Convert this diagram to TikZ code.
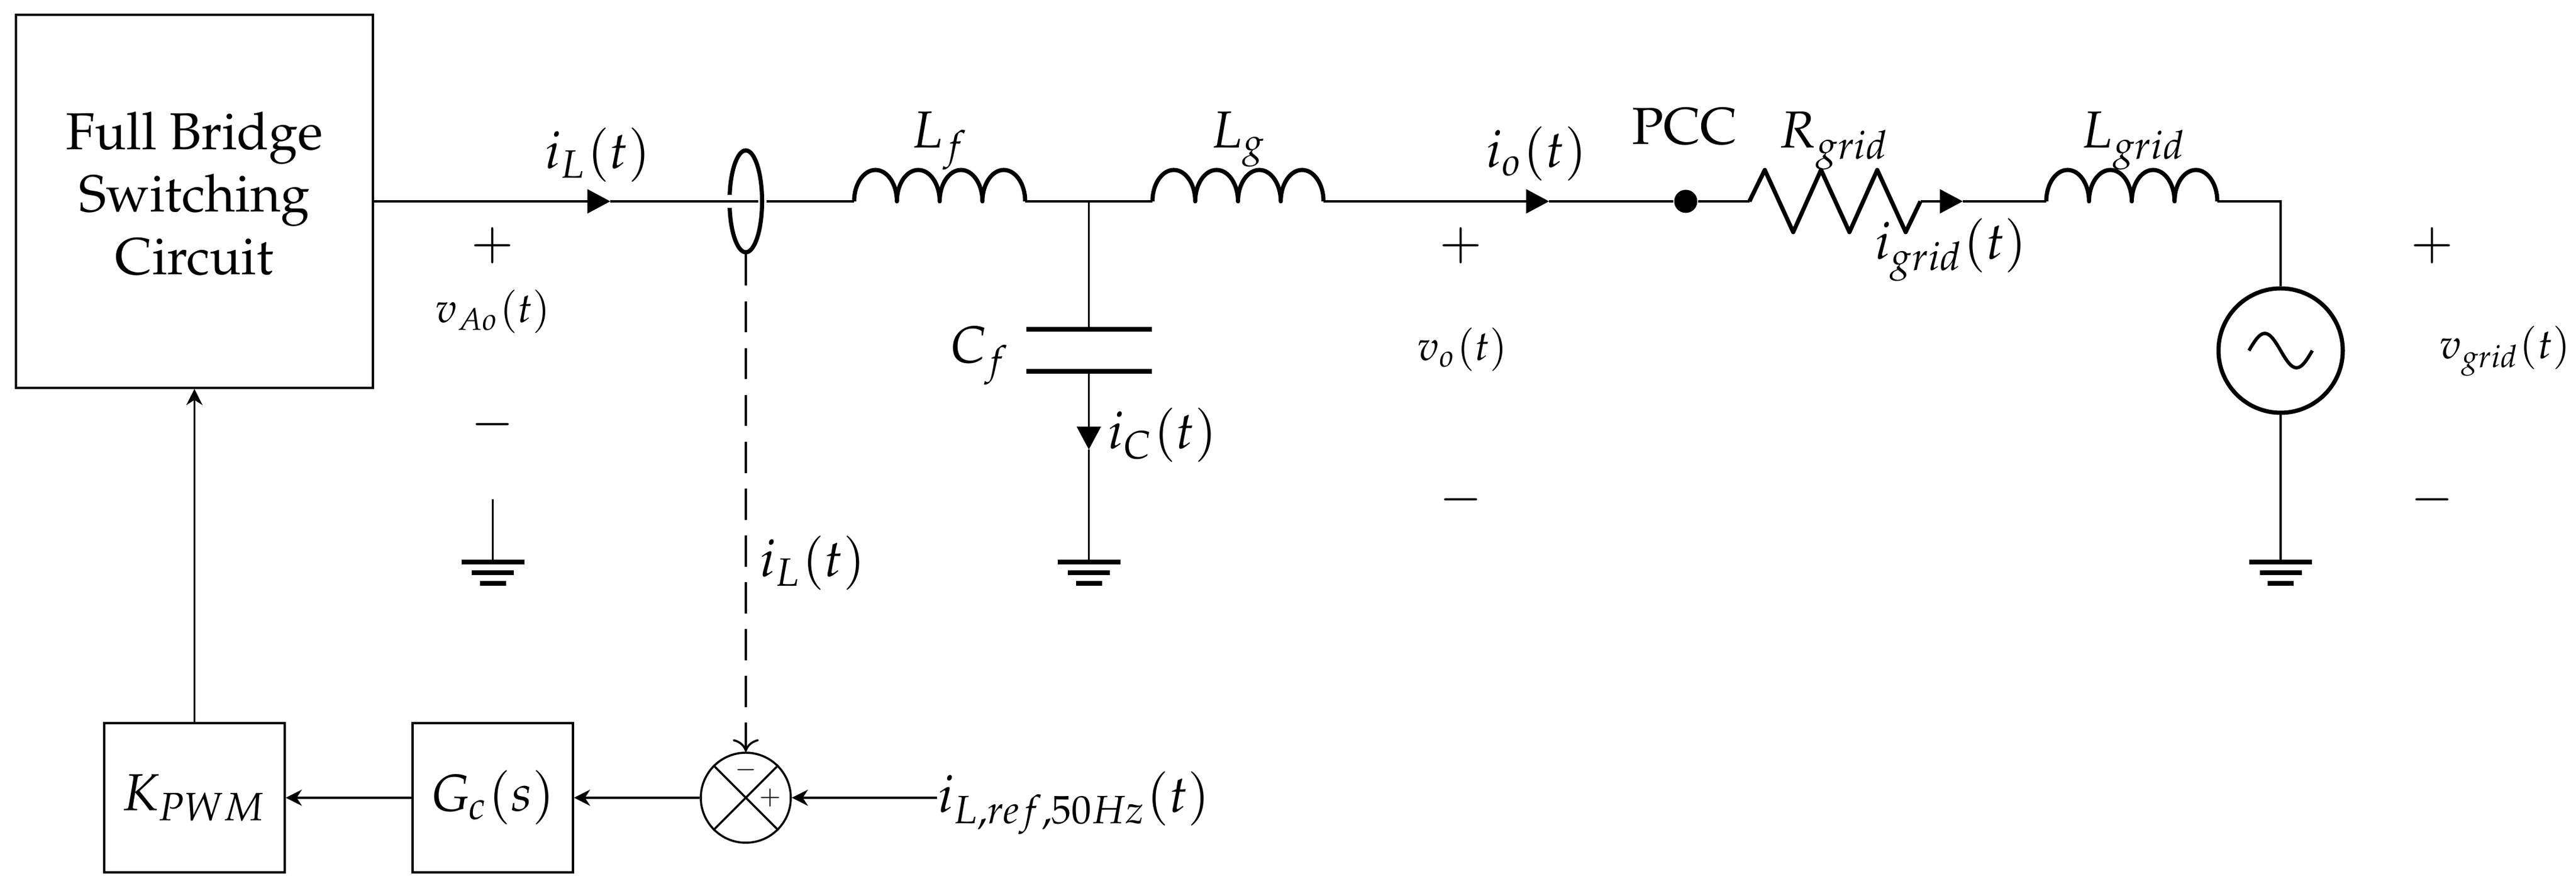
\documentclass[tikz,border=0pt]{standalone}
\usepackage[T1]{fontenc}
\usepackage{mathpazo}
\usetikzlibrary{arrows.meta,shapes.geometric}
\tikzset{
    currtip/.tip={Triangle[length=4.4pt,width=4.6pt]},
    sigtip/.tip={Stealth[length=3.1pt,width=3.1pt,inset=1pt]},
    opentip/.tip={Computer Modern Rightarrow[length=2.4pt,width=5pt]},
    blockbox/.style={draw,inner sep=0pt,minimum height=1.008cm},
    plate/.style={line width=0.85pt},
    coil/.style={line width=0.8pt,line join=round},
    smalltext/.style={font=\footnotesize,inner sep=0pt,anchor=base},
    bigtext/.style={inner sep=0pt,anchor=base}
}
\begin{document}
\begin{tikzpicture}[x=0.4cm,y=0.4cm]
    \useasboundingbox (0,0) rectangle (43.52,14.96);

    % Blocks
    \node[draw,inner sep=0pt,minimum width=2.412cm,minimum height=2.52cm,align=center,text depth=3.2pt] (bridge) at (3.285,11.56) {Full Bridge\\Switching\\Circuit};
    \node[blockbox,minimum width=1.22cm] (kpwm) at (3.285,1.49) {$K_{PWM}$};
    \node[blockbox,minimum width=1.084cm] (gc) at (8.325,1.49) {$G_c(s)$};
    \node[draw,circle,inner sep=0pt,minimum size=0.608cm] (sum) at (12.60,1.49) {};
    \node[font=\tiny,inner sep=0pt] (summinus) at (12.60,1.96) {$-$};
    \node[font=\tiny,inner sep=0pt] (sumplus) at (13.01,1.49) {$+$};
    \draw (sum.north west) -- (sum.south east);
    \draw (sum.north east) -- (sum.south west);

    % Current sensor
    \node[draw,thick,ellipse,inner sep=0pt,minimum width=0.22cm,minimum height=0.688cm] (sensor) at (12.60,11.56) {};
    \fill[white] (12.22,11.45) rectangle (12.44,11.67);

    % Inductors
    \foreach \name/\x in {lf/14.43,lg/19.47,lgrid/34.57} {
        \coordinate (\name-in) at (\x,11.56);
        \coordinate (\name-out) at (\x+2.89,11.56);
        \draw[coil] (\name-in) arc[start angle=180,end angle=0,x radius=0.36125,y radius=0.53]
            arc[start angle=180,end angle=0,x radius=0.36125,y radius=0.53]
            arc[start angle=180,end angle=0,x radius=0.36125,y radius=0.53]
            arc[start angle=180,end angle=0,x radius=0.36125,y radius=0.53];
    }

    % Grounds
    \foreach \name/\x in {gndA/8.325,gndC/18.395,gndS/38.53} {
        \coordinate (\name) at (\x,5.47);
        \draw[plate] (\x-0.53,5.47) -- (\x+0.53,5.47);
        \draw[plate] (\x-0.355,5.29) -- (\x+0.355,5.29);
        \draw[plate] (\x-0.22,5.11) -- (\x+0.22,5.11);
    }

    % Main wire
    \coordinate (tipA) at (10.31,11.56);
    \coordinate (sensorW) at (12.81,11.56);
    \coordinate (sensorE) at (12.95,11.56);
    \coordinate (capTop) at (18.395,11.56);
    \coordinate (tipO) at (26.17,11.56);
    \node[circle,fill,inner sep=0pt,minimum size=0.156cm] (pcc) at (28.48,11.56) {};
    \coordinate (resIn) at (29.555,11.56);
    \coordinate (resOut) at (32.445,11.56);
    \coordinate (tipG) at (33.16,11.56);
    \draw[-currtip] (bridge.east) -- (tipA);
    \draw (tipA) -- (sensorW);
    \draw (sensorE) -- (lf-in);
    \draw (lf-out) -- (lg-in);
    \draw[-currtip] (lg-out) -- (tipO);
    \draw (tipO) -- (pcc);
    \draw (pcc) -- (resIn);
    \draw[coil] (resIn) -- ++(0.26,0.53) -- ++(0.48,-1.05) -- ++(0.47,1.05) -- ++(0.48,-1.05) -- ++(0.47,1.05) -- ++(0.48,-1.05) -- (resOut);
    \draw[-currtip] (resOut) -- (tipG);
    \draw (tipG) -- (lgrid-in);

    % Capacitor branch
    \coordinate (capA) at (18.395,9.40);
    \coordinate (capB) at (18.395,8.69);
    \coordinate (tipC) at (18.395,7.37);
    \draw (capTop) -- (capA);
    \draw[plate] ([xshift=-0.424cm]capA) -- ([xshift=0.424cm]capA);
    \draw[plate] ([xshift=-0.424cm]capB) -- ([xshift=0.424cm]capB);
    \draw[-currtip] (capB) -- (tipC);
    \draw (tipC) -- (gndC);

    % Grid source
    \node[draw,thick,circle,inner sep=0pt,minimum size=0.84cm] (vsrc) at (38.53,9.04) {};
    \draw (lgrid-out) -| (vsrc.north);
    \draw (vsrc.south) -- (gndS);
    \draw[line width=0.65pt,domain=0:360,smooth,variable=\x,shift={(vsrc.center)}] plot ({\x/360*1.07-0.535},{0.29*sin(\x)});

    % Ground stub under the bridge output
    \coordinate (stubA) at (8.325,6.53);
    \draw (stubA) -- (gndA);

    % Control loop
    \node[bigtext,anchor=base west] (iref) at (15.83,1.24) {$i_{L,ref,50Hz}(t)$};
    \draw[dash pattern=on 6pt off 3pt,-opentip] (sensor.south) -- (sum.north);
    \draw[-sigtip] (iref.west |- sum.east) -- (sum.east);
    \draw[-sigtip] (sum.west) -- (gc.east);
    \draw[-sigtip] (gc.west) -- (kpwm.east);
    \draw[-sigtip] (kpwm.north) -- (bridge.south);

    % Labels
    \node[bigtext] (ilabel) at (10.10,12.11) {$i_L(t)$};
    \node[bigtext] (isense) at (13.73,5.22) {$i_L(t)$};
    \node[bigtext] (lflabel) at (15.88,12.46) {$L_f$};
    \node[bigtext] (lglabel) at (20.93,12.46) {$L_g$};
    \node[bigtext] (iolabel) at (25.96,12.13) {$i_o(t)$};
    \node[bigtext] (pcclabel) at (28.46,12.52) {PCC};
    \node[bigtext] (rlabel) at (30.99,12.46) {$R_{grid}$};
    \node[bigtext] (lglabel2) at (36.05,12.46) {$L_{grid}$};
    \node[bigtext] (igridlabel) at (32.96,10.58) {$i_{grid}(t)$};
    \node[bigtext] (cflabel) at (16.56,8.83) {$C_f$};
    \node[bigtext] (iclabel) at (19.64,7.38) {$i_C(t)$};

    % Voltage labels
    \node[smalltext] (vaolabel) at (8.33,9.51) {$v_{Ao}(t)$};
    \node[smalltext] (volabel) at (24.71,8.87) {$v_o(t)$};
    \node[smalltext] (vgridlabel) at (42.32,8.90) {$v_{grid}(t)$};
    \node[inner sep=0pt] (vaoplus) at (8.325,10.815) {$+$};
    \node[inner sep=0pt] (vaominus) at (8.325,7.79) {$-$};
    \node[inner sep=0pt] (voplus) at (24.685,10.81) {$+$};
    \node[inner sep=0pt] (vominus) at (24.685,6.52) {$-$};
    \node[inner sep=0pt] (vgplus) at (41.09,10.81) {$+$};
    \node[inner sep=0pt] (vgminus) at (41.09,6.52) {$-$};
\end{tikzpicture}
\end{document}
